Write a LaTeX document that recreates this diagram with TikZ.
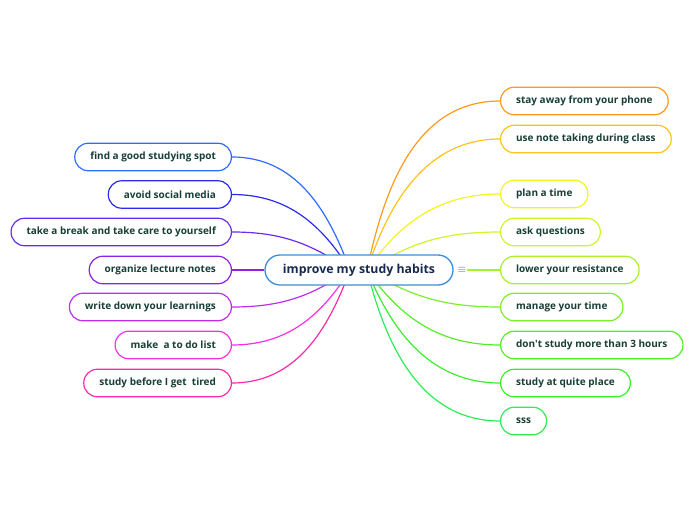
\documentclass[tikz,border=0pt]{standalone}
\usepackage{fontspec}
\setmainfont{Open Sans}
\usetikzlibrary{backgrounds}
\definecolor{txt}{HTML}{173F35}
\definecolor{roottxt}{HTML}{172A4E}
\definecolor{rootbd}{HTML}{3A8FD8}
\definecolor{cla}{HTML}{2F6BFF}
\definecolor{clb}{HTML}{2A2AF0}
\definecolor{clc}{HTML}{6A2CF0}
\definecolor{cld}{HTML}{8A22E8}
\definecolor{cle}{HTML}{C02CF0}
\definecolor{clf}{HTML}{F830E0}
\definecolor{clg}{HTML}{FF2AA8}
\definecolor{cra}{HTML}{FF9A1A}
\definecolor{crb}{HTML}{FFC21A}
\definecolor{crc}{HTML}{F5F51A}
\definecolor{crd}{HTML}{CCF52A}
\definecolor{cre}{HTML}{A8F02A}
\definecolor{crf}{HTML}{7AF02A}
\definecolor{crg}{HTML}{55EE22}
\definecolor{crh}{HTML}{3AEE2A}
\definecolor{cri}{HTML}{2AEE55}
\tikzset{
  x=1pt,y=1pt,
  topic/.style={draw=#1, line width=1.2pt, rounded corners=13.5pt, fill=white,
    minimum height=27.5pt, inner xsep=15.5pt, inner ysep=0pt, text=txt,
    font=\bfseries\fontsize{10}{12}\selectfont},
  ltopic/.style={topic=#1, anchor=east},
  rtopic/.style={topic=#1, anchor=west},
  link/.style={draw=#1, line width=1.2pt},
  rootbox/.style={draw=rootbd, line width=1.3pt, rounded corners=15pt, fill=white,
    minimum width=188pt, minimum height=30pt, text=roottxt,
    font=\bfseries\fontsize{12.3}{14}\selectfont}
}
\begin{document}
\begin{tikzpicture}
\useasboundingbox (0,1) rectangle (696,521);
\node[rootbox] (root) at (359,251) {improve my study habits};
\coordinate (hubL) at (350,251);
\coordinate (hubR) at (367,251);
\node[text=roottxt!75, font=\fontsize{11}{11}\selectfont, inner sep=1pt] (menu) at (462,251) {$\equiv$};
% left
\node[ltopic=cla] (l1) at (232,364) {find a good studying spot};
\node[ltopic=clb] (l2) at (232,326.5) {avoid social media};
\node[ltopic=clc] (l3) at (232,289) {take a break and take care to yourself};
\node[ltopic=cld] (l4) at (232,251) {organize lecture notes};
\node[ltopic=cle] (l5) at (232,214) {write down your learnings};
\node[ltopic=clf] (l6) at (232,176) {make\ \ a to do list};
\node[ltopic=clg] (l7) at (232,138) {study before I get\ \ tired};
% right
\node[rtopic=cra] (r1) at (500,420) {stay away from your phone};
\node[rtopic=crb] (r2) at (500,382) {use note taking during class};
\node[rtopic=crc] (r3) at (500,327) {plan a time};
\node[rtopic=crd] (r4) at (500,289) {ask questions};
\node[rtopic=cre] (r5) at (500,251) {lower your resistance};
\node[rtopic=crf] (r6) at (500,214) {manage your time};
\node[rtopic=crg] (r7) at (500,176) {don\textquotesingle t study more than 3 hours};
\node[rtopic=crh] (r8) at (500,138) {study at quite place};
\node[rtopic=cri] (r9) at (500,100) {sss};
\begin{scope}[on background layer]
\draw[link=cla] (hubL) to[out=110,in=0] (l1.east);
\draw[link=clb] (hubL) to[out=122,in=0] (l2.east);
\draw[link=clc] (hubL) to[out=146,in=0] (l3.east);
\draw[link=cld] (root.west) -- (l4.east);
\draw[link=cle] (hubL) to[out=214,in=0] (l5.east);
\draw[link=clf] (hubL) to[out=238,in=0] (l6.east);
\draw[link=clg] (hubL) to[out=250,in=0] (l7.east);
\draw[link=cra] (hubR) to[out=78,in=180] (r1.west);
\draw[link=crb] (hubR) to[out=72,in=180] (r2.west);
\draw[link=crc] (hubR) to[out=55,in=180] (r3.west);
\draw[link=crd] (hubR) to[out=32,in=180] (r4.west);
\draw[link=cre] (menu.east) -- (r5.west);
\draw[link=crf] (hubR) to[out=-31,in=180] (r6.west);
\draw[link=crg] (hubR) to[out=-55,in=180] (r7.west);
\draw[link=crh] (hubR) to[out=-68,in=180] (r8.west);
\draw[link=cri] (hubR) to[out=-76,in=180] (r9.west);
\end{scope}
\end{tikzpicture}
\end{document}
